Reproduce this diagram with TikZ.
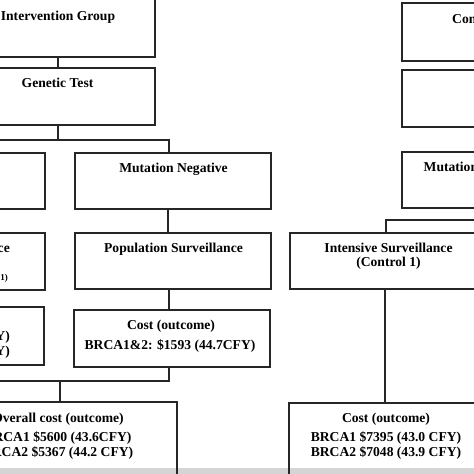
\documentclass[tikz,border=0pt]{standalone}
\usepackage{fontspec}
\setmainfont{Liberation Serif}

\tikzset{
	box/.style={draw=black!85, line width=1.4pt, inner sep=0pt},
	link/.style={draw=black!85, line width=1.4pt},
	txt/.style={inner sep=0pt, font=\bfseries\fontsize{13.6}{15}\selectfont},
	tiny txt/.style={inner sep=0pt, font=\bfseries\fontsize{9}{10}\selectfont}
}

\begin{document}
\begin{tikzpicture}[x=1pt, y=-1pt]
		\useasboundingbox (0,0) rectangle (474,474);
		\clip (0,0) rectangle (474,474);
		\fill[black!17] (0,468) rectangle (474,474);

		% intervention side
		\node[box, minimum width=194pt, minimum height=59pt] (ig) at (58,27.5) {};
		\node[txt, anchor=base] (igt) at (58,20.5) {Intervention Group};
		\node[box, minimum width=194pt, minimum height=57pt] (gt) at (58,96.5) {};
		\node[txt, anchor=base] (gtt) at (57.5,87) {Genetic Test};

		\node[box, minimum width=196pt, minimum height=56pt] (mp) at (-53,181) {};
		\node[box, minimum width=196pt, minimum height=56pt] (mn) at (173,181) {};
		\node[txt, anchor=base] (mnt) at (173.5,172.7) {Mutation Negative};

		\node[box, minimum width=196pt, minimum height=57pt] (isl) at (-53,261.5) {};
		\node[txt, anchor=base east] (islt) at (10,252.5) {Intensive Surveillance};
		\node[tiny txt, anchor=base east] (isls) at (8,280) {(Intervention 1)};
		\node[box, minimum width=196pt, minimum height=56pt] (ps) at (173,261) {};
		\node[txt, anchor=base] (pst) at (173.5,252.7) {Population Surveillance};

		\node[box, minimum width=195pt, minimum height=58pt] (cl) at (-53.5,336) {};
		\node[txt, anchor=base east] (cla) at (10,340.5) {CFY)};
		\node[txt, anchor=base east] (clb) at (10,355) {CFY)};
		\node[box, minimum width=196pt, minimum height=57pt] (cn) at (172,338.5) {};
		\node[txt, anchor=base] (cna) at (171,329) {Cost (outcome)};
		\node[txt, anchor=base] (cnb) at (170,349) {BRCA1\&2: \$1593 (44.7CFY)};

		\node[box, minimum width=238pt, minimum height=98pt] (oc) at (58,451) {};
		\node[txt, anchor=base] (oca) at (58,422.7) {Overall cost (outcome)};
		\node[txt, anchor=base] (ocb) at (58,441) {BRCA1 \$5600 (43.6CFY)};
		\node[txt, anchor=base] (occ) at (58,456) {BRCA2 \$5367 (44.2 CFY)};

		\coordinate (split) at (58,140);
		\coordinate (merge) at (60,381);
		\draw[link] (ig.south) -- (gt.north);
		\draw[link] (gt.south) -- (split);
		\draw[link] (mp.north) |- (split) -| ([xshift=-4pt]mn.north);
		\draw[link] ([xshift=-5pt]mn.south) -- ([xshift=-5pt]ps.north);
		\draw[link] ([xshift=-4pt]ps.south) -- ([xshift=-3pt]cn.north);
		\draw[link] ([xshift=-3pt]cn.south) |- (merge) -| (cl.south);
		\draw[link] (merge) -- ([xshift=2pt]oc.north);

		% control side
		\node[box, minimum width=188pt, minimum height=58pt] (cg) at (496,32) {};
		\node[txt, anchor=base west] (cgt) at (452,23.5) {Control Group};
		\node[box, minimum width=188pt, minimum height=57pt] (cgx) at (496,98.5) {};
		\node[box, minimum width=188pt, minimum height=56pt] (cm) at (496,180) {};
		\node[txt, anchor=base west] (cmt) at (423.5,171.7) {Mutation Positive};

		\node[box, minimum width=198pt, minimum height=56pt] (isc) at (389,261) {};
		\node[txt, anchor=base] (isca) at (388.5,252.7) {Intensive Surveillance};
		\node[txt, anchor=base] (iscb) at (388.5,266) {(Control 1)};

		\node[box, minimum width=192pt, minimum height=97pt] (cc) at (385,451.5) {};
		\node[txt, anchor=base] (cca) at (386,422.7) {Cost (outcome)};
		\node[txt, anchor=base] (ccb) at (386,441.5) {BRCA1 \$7395 (43.0 CFY)};
		\node[txt, anchor=base] (ccc) at (386,456.5) {BRCA2 \$7048 (43.9 CFY)};

		\coordinate (csplit) at (386,220);
		\draw[link] (cm.south) |- (csplit) -- ([xshift=-3pt]isc.north);
		\draw[link] ([xshift=-4pt]isc.south) -- (cc.north);
\end{tikzpicture}
\end{document}
